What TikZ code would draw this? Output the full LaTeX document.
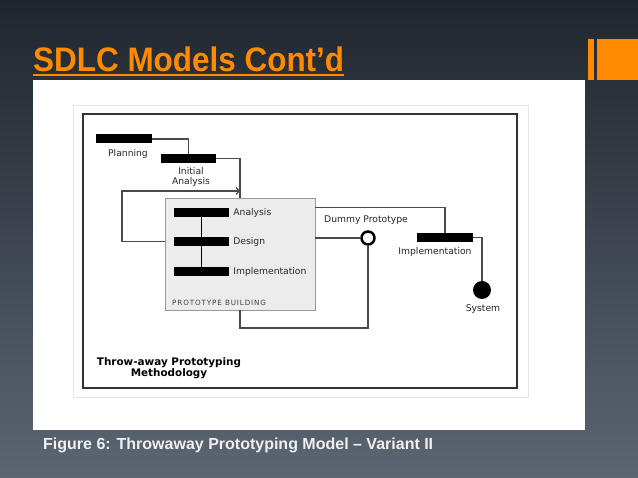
\documentclass[tikz,border=0pt]{standalone}
\usepackage{fontspec}
\setmainfont{Liberation Sans}
\newfontfamily\figfont{DejaVu Sans}
\usetikzlibrary{positioning,arrows.meta}
\definecolor{slidetop}{HTML}{1F262E}
\definecolor{slidebot}{HTML}{5B6672}
\definecolor{accent}{HTML}{FF8A00}
\definecolor{wire}{HTML}{4A4A4A}
\definecolor{boxfill}{HTML}{ECECEC}

\begin{document}
\begin{tikzpicture}[x=1pt,y=-1pt,
  bar/.style={fill=black,minimum width=55pt,minimum height=9pt,inner sep=0pt},
  lbl/.style={font=\figfont\fontsize{9.2}{9.5}\selectfont,text=black!85,inner sep=0pt,align=center},
  wire/.style={draw=wire,line width=1.2pt}]

\useasboundingbox (0,0) rectangle (638,478);
\shade[top color=slidetop,bottom color=slidebot] (0,0) rectangle (638,478);

\node (title) at (33,72) [anchor=base west,inner sep=0pt,text=accent,font=\bfseries\fontsize{34}{40}\selectfont] {\scalebox{0.925}[1]{SDLC Models Cont’d}};
\draw [accent,line width=2pt] ([yshift=-3pt]title.base west) -- ([yshift=-3pt]title.base east);
\fill [accent] (588,39) rectangle (594,80);
\fill [accent] (597,39) rectangle (638,80);

\fill [white] (33,80) rectangle (585,430);
\draw [black!10] (73,105) rectangle (528,397);
\draw [black!80,line width=2.5pt] (83,114) rectangle (517,388);

\node (plan) at (124,139) [bar,minimum width=56pt] {};
\node (init) at (188.5,158.5) [bar] {};
\node (proto) at (240,254) [draw=black!40,fill=boxfill,minimum width=150pt,minimum height=112pt,inner sep=0pt] {};
\node (ana) at (201.5,212.5) [bar] {};
\node (des) at (201.5,241.5) [bar] {};
\node (imp) at (201.5,271.5) [bar] {};
\node (dummy) at (368,238) [circle,draw=black,line width=2.5pt,fill=white,minimum size=13pt,inner sep=0pt] {};
\node (impl) at (445,237.5) [bar,minimum width=56pt] {};
\node (sys) at (482,290) [circle,fill=black,minimum size=18pt,inner sep=0pt] {};

\coordinate (loop) at (122,191);
\coordinate (back) at (300,328);

\draw [wire] (plan.east) -| (init.north);
\draw [wire] (init.east) -| (proto.north);
\draw [wire,-{Straight Barb[length=3pt,width=7pt]}] (proto.west |- des) -| (loop) -- (proto.north |- loop);
\draw [black,line width=1.2pt] (ana) -- (imp);
\draw [wire] (proto.east |- ana.north) -| (impl.north);
\draw [wire] (proto.east |- dummy) -- (dummy);
\draw [wire] (dummy.south) |- (back) -| (proto.south);
\draw [wire] (impl.east) -| (sys.north);

\node (planlbl) at (128,154) [lbl] {Planning};
\node (initlbl) at (191,177) [lbl] {Initial\\Analysis};
\node (analbl) [lbl,right=4pt of ana] {Analysis};
\node (deslbl) [lbl,right=4pt of des] {Design};
\node (implbl) [lbl,right=4pt of imp] {Implementation};
\node (pblbl) at (172,306) [anchor=base west,inner sep=0pt,text=black!75,font=\figfont\fontsize{7.2}{8}\selectfont\addfontfeatures{LetterSpace=12}] {PROTOTYPE BUILDING};
\node (dummylbl) at (366,220) [lbl] {Dummy Prototype};
\node (impllbl) at (435,252) [lbl] {Implementation};
\node (syslbl) at (483,309) [lbl] {System};
\node (meth) at (169,368) [align=center,inner sep=0pt,font=\figfont\bfseries\fontsize{10.4}{9.5}\selectfont] {Throw-away Prototyping\\Methodology};

\node (cap) at (43,450) [anchor=base west,inner sep=0pt,text=white!94!black,font=\bfseries\fontsize{16}{18}\selectfont] {Figure 6: Throwaway Prototyping Model – Variant II};

\end{tikzpicture}
\end{document}
